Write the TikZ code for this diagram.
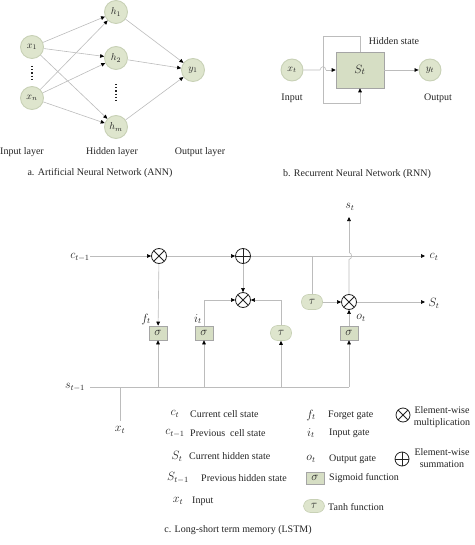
\documentclass[tikz,border=0pt]{standalone}
\usepackage{fontspec}
\setmainfont{Liberation Serif}
\usetikzlibrary{arrows.meta,calc}
\definecolor{lg}{RGB}{188,188,188}
\definecolor{cfill}{RGB}{222,229,205}
\definecolor{cdraw}{RGB}{200,209,182}
\definecolor{bfill}{RGB}{214,222,196}
\definecolor{bdraw}{RGB}{165,165,165}
\definecolor{txt}{RGB}{35,35,35}
\begin{document}
\begin{tikzpicture}[x=1pt,y=-1pt,font=\fontsize{10}{12}\selectfont,text=txt,
 neuron/.style={circle,fill=cfill,draw=cdraw,line width=0.9pt,minimum size=23pt,inner sep=0pt,font=\fontsize{10}{11}\selectfont},
 ln/.style={draw=lg,line width=0.6pt},
 arr/.style={ln,-{Triangle[length=4pt,width=3.6pt,color=black]}},
 sbox/.style={rectangle,fill=bfill,draw=bdraw,line width=0.6pt,minimum width=48pt,minimum height=36pt,inner sep=0pt,font=\fontsize{13}{14}\selectfont},
 sigbox/.style={rectangle,fill=bfill,draw=bdraw,line width=0.6pt,minimum width=18pt,minimum height=14pt,inner sep=0pt,font=\fontsize{13}{14}\selectfont},
 taubox/.style={rectangle,rounded corners=7pt,fill=cfill,draw=cdraw,line width=0.6pt,minimum width=21pt,minimum height=15pt,inner sep=0pt,font=\fontsize{13}{14}\selectfont},
 mult/.style={circle,draw=txt,line width=0.8pt,minimum size=15pt,inner sep=0pt,fill=white,
   path picture={\draw[txt,line width=0.8pt]
     ($(path picture bounding box.center)+(45:7.5pt)$) -- ($(path picture bounding box.center)+(225:7.5pt)$)
     ($(path picture bounding box.center)+(135:7.5pt)$) -- ($(path picture bounding box.center)+(-45:7.5pt)$);}},
 plus/.style={circle,draw=txt,line width=0.8pt,minimum size=15pt,inner sep=0pt,fill=white,
   path picture={\draw[txt,line width=0.8pt]
     ($(path picture bounding box.center)+(0:7.5pt)$) -- ($(path picture bounding box.center)+(180:7.5pt)$)
     ($(path picture bounding box.center)+(90:7.5pt)$) -- ($(path picture bounding box.center)+(270:7.5pt)$);}},
 lbl/.style={inner sep=1pt},
 leg/.style={anchor=west,inner sep=0pt},
 sym/.style={inner sep=0pt,font=\fontsize{12}{13}\selectfont},
]
\useasboundingbox (0,0) rectangle (474,545);

% ---------- (a) ANN ----------
\node[neuron] (x1) at (32,47) {$x_1$};
\node[neuron] (xn) at (32,98) {$x_n$};
\node[neuron] (h1) at (116,12) {$h_1$};
\node[neuron] (h2) at (116,58) {$h_2$};
\node[neuron] (hm) at (116,127) {$h_m$};
\node[neuron] (y1) at (193,70) {$y_1$};
\draw[txt,dotted,line width=1.2pt] (32,66) -- (32,80);
\draw[txt,dotted,line width=1.2pt] (116,84) -- (116,102);
\foreach \a in {x1,xn}{\foreach \b in {h1,h2,hm}{\draw[arr] (\a) -- (\b);}}
\foreach \b in {h1,h2,hm}{\draw[arr] (\b) -- (y1);}
\node[lbl] (lin) at (22,152) {Input layer};
\node[lbl] (lhid) at (112,152) {Hidden layer};
\node[lbl] (lout) at (200,152) {Output layer};
\node[lbl] (capa) at (100,173) {a. Artificial Neural Network (ANN)};

% ---------- (b) RNN ----------
\node[neuron,minimum size=22pt] (xt) at (292,70) {$x_t$};
\node[sbox] (S) at (360,70) {$S_t$};
\node[neuron,minimum size=22pt] (yt) at (430,70) {$y_t$};
\coordinate (lt) at (323,36);
\coordinate (lb) at (323,103);
\coordinate (h1a) at (320,70);
\coordinate (h1b) at (326,70);
\draw[ln] (S.north) |- (lt) -- (lb);
\draw[arr] (lb) -| (S.south);
\draw[ln] (xt) -- (h1a) .. controls (321,65.5) and (325,65.5) .. (h1b);
\draw[arr] (h1b) -- (S.west);
\draw[arr] (S.east) -- (yt);
\node[lbl] (lhs) at (394,41) {Hidden state};
\node[lbl] (linp) at (292,98) {Input};
\node[lbl] (loutp) at (438,98) {Output};
\node[lbl] (capb) at (357,174) {b. Recurrent Neural Network (RNN)};

% ---------- (c) LSTM ----------
\node[sym] (cprev) at (80,257) {$c_{t-1}$};
\coordinate (cstart) at (90,256);
\node[mult] (M1) at (159,256) {};
\node[plus] (A1) at (243,256) {};
\coordinate (cend) at (425,256);
\node[sym] (ct) at (434,257) {$c_t$};
\draw[arr] (cstart) -- (M1);
\draw[arr] (M1) -- (A1);
\draw[arr] (A1) -- (cend);

\node[taubox] (T1) at (312,302) {$\tau$};
\node[mult] (M3) at (349,302) {};
\node[mult] (M2) at (243,300) {};
\coordinate (Tc) at (312,256);
\draw[ln] (Tc) -- (T1);
\draw[arr] (T1) -- (M3);
\coordinate (sout) at (425,302);
\node[sym] (st) at (434,303) {$S_t$};
\draw[arr] (M3) -- (sout);
\coordinate (hopA) at (349,259.5);
\coordinate (hopB) at (349,252.5);
\coordinate (stop) at (349,217);
\node[sym] (stt) at (350,207) {$s_t$};
\draw[ln] (M3) -- (hopA) .. controls (352.5,259) and (352.5,253) .. (hopB);
\draw[arr] (hopB) -- (stop);
\draw[arr] (A1) -- (M2);

\node[sigbox] (F) at (158,333) {$\sigma$};
\node[sigbox] (I) at (204,333) {$\sigma$};
\node[taubox] (T2) at (281,333) {$\tau$};
\node[sigbox] (O) at (349,333) {$\sigma$};
\node[sym] (ft) at (146,319) {$f_t$};
\node[sym] (it) at (198,319) {$i_t$};
\node[sym] (ot) at (361,318) {$o_t$};
\draw[arr] (M1) -- (F);
\draw[arr] (I.north) |- (M2.west);
\draw[arr] (T2.north) |- (M2.east);
\draw[arr] (O) -- (M3);

\node[sym] (sprev) at (75,387) {$s_{t-1}$};
\coordinate (sstart) at (90,387);
\coordinate (send) at (349,387);
\draw[ln] (sstart) -- (send);
\draw[arr] (send) -- (O.south);
\foreach \n/\xx in {F/158,I/204,T2/281}{\draw[arr] (\xx,387) -- (\n.south);}
\coordinate (xtop) at (120,387);
\coordinate (xbot) at (120,421);
\draw[ln] (xtop) -- (xbot);
\node[sym] (xin) at (120,430) {$x_t$};

% legend
\node[sym] (g1) at (175,414) {$c_t$};
\node[leg] (g1t) at (190,414) {Current cell state};
\node[sym] (g2) at (175,433) {$c_{t-1}$};
\node[leg] (g2t) at (190,433) {Previous\ \ cell state};
\node[sym] (g3) at (177,456) {$S_t$};
\node[leg] (g3t) at (189,456) {Current hidden state};
\node[sym] (g4) at (178,478) {$S_{t-1}$};
\node[leg] (g4t) at (201,478) {Previous hidden state};
\node[sym] (g5) at (178,501) {$x_t$};
\node[leg] (g5t) at (192,501) {Input};

\node[sym] (k1) at (311,415) {$f_t$};
\node[leg] (k1t) at (328,415) {Forget gate};
\node[sym] (k2) at (311,433) {$i_t$};
\node[leg] (k2t) at (329,433) {Input gate};
\node[sym] (k3) at (311,459) {$o_t$};
\node[leg] (k3t) at (329,459) {Output gate};
\node[sigbox,minimum height=12pt] (k4) at (315,478) {$\sigma$};
\node[leg] (k4t) at (329,478) {Sigmoid function};
\node[taubox,minimum height=13pt] (k5) at (314,506) {$\tau$};
\node[leg] (k5t) at (328,507) {Tanh function};

\node[mult,minimum size=14pt] (e1) at (403,415) {};
\node[lbl,align=center,font=\fontsize{10}{11.5}\selectfont] (e1t) at (442,417) {Element-wise\\multiplication};
\node[plus,minimum size=14pt] (e2) at (402,459) {};
\node[lbl,align=center,font=\fontsize{10}{11.5}\selectfont] (e2t) at (442,458) {Element-wise\\summation};

\node[lbl] (capc) at (238,530) {c. Long-short term memory (LSTM)};
\end{tikzpicture}
\end{document}
